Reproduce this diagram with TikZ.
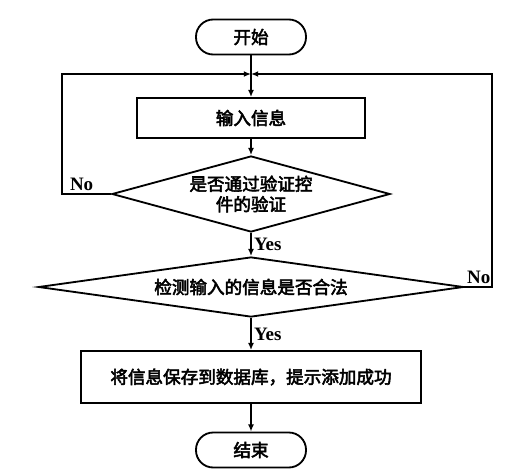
\documentclass[tikz,border=0pt]{standalone}
\usepackage{fontspec}
\setmainfont{Liberation Serif}
\newfontfamily\cjk[FakeBold=3]{Noto Sans CJK SC}
\usepackage{tikz}
\usetikzlibrary{arrows.meta,shapes.geometric}

\begin{document}
\begin{tikzpicture}[x={(0.025cm,0)}, y={(0,-0.025cm)},
	every node/.style={font=\cjk\fontsize{12.5pt}{14.5pt}\selectfont},
	>={Latex[length=1.8mm,width=1.5mm]}, line width=1.3pt,
	term/.style={draw, rounded corners=0.43cm, minimum width=2.75cm, minimum height=0.875cm},
	proc/.style={draw, minimum height=1.0cm},
	test/.style={draw, diamond, inner sep=0pt, align=center},
	yn/.style={font=\bfseries\fontsize{13.5pt}{15pt}\selectfont, inner sep=1.5pt}]
	\useasboundingbox (0,0) rectangle (520,474);
	\node[term] (start) at (251,37) {开始};
	\node[proc, minimum width=5.7cm] (input) at (251,118) {输入信息};
	\node[test, minimum width=6.95cm, minimum height=1.9cm, aspect=3.6] (valid) at (251,194) {是否通过验证控\\件的验证};
	\node[test, minimum width=10.625cm, minimum height=1.5cm, aspect=7] (legal) at (251,287) {检测输入的信息是否合法};
	\node[proc, minimum width=8.5cm, minimum height=1.3cm] (save) at (251,377) {将信息保存到数据库，提示添加成功};
	\node[term] (stop) at (251,450) {结束};
	\coordinate (join) at (251,74);
	\coordinate (lcorner) at (62,74);
	\coordinate (rcorner) at (492,74);
	% main flow
	\draw[->] (start) -- (input);
	\draw[->] (input) -- (valid);
	\draw[->] (valid) -- (legal) node[midway, right, yn] {Yes};
	\draw[->] (legal) -- (save) node[midway, right, yn] {Yes};
	\draw[->] (save) -- (stop);
	% loops back
	\draw[->] (valid.west) -| (lcorner) node[pos=0.3, above, yn] {No} -- (join);
	\draw[->] (legal.east) -| (rcorner) node[pos=0.26, above, yn] {No} -- (join);
\end{tikzpicture}
\end{document}
